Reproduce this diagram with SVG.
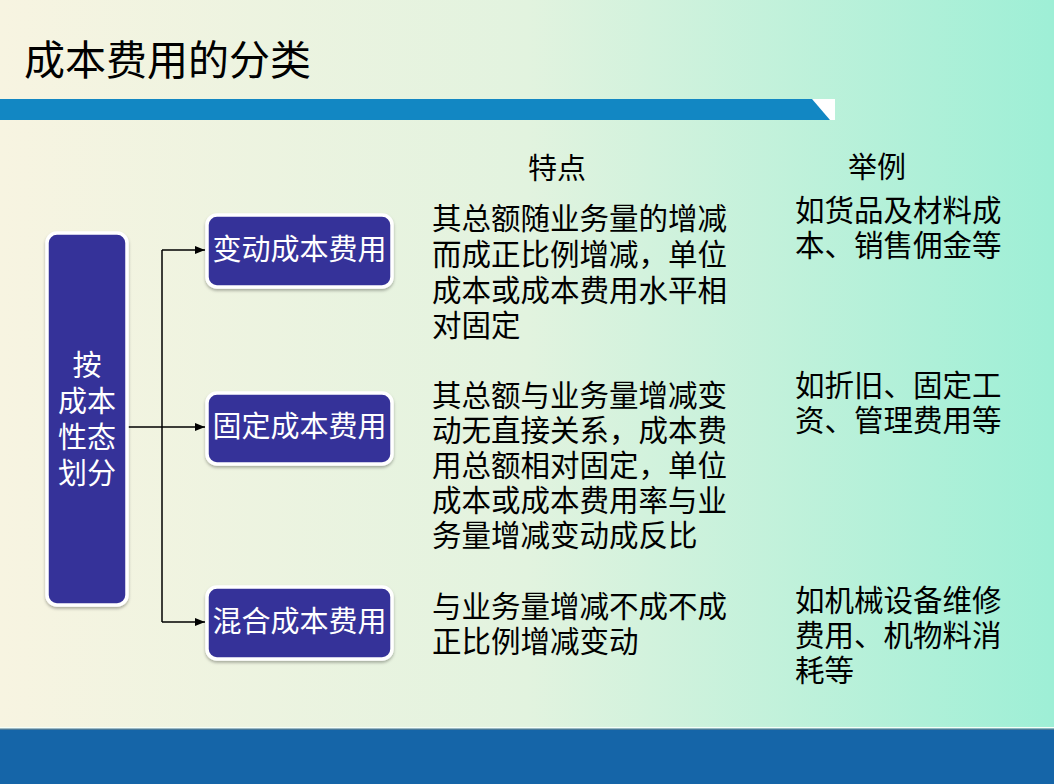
<svg xmlns="http://www.w3.org/2000/svg" width="1054" height="784" viewBox="0 0 1054 784">
<defs>
<linearGradient id="bg" x1="0" y1="0" x2="1" y2="0">
<stop offset="0" stop-color="#f7f4e1"/>
<stop offset="0.5" stop-color="#e2f3df"/>
<stop offset="1" stop-color="#9eefd6"/>
</linearGradient>
<marker id="arr" markerWidth="10" markerHeight="8" refX="10" refY="4" orient="auto" markerUnits="userSpaceOnUse">
<path d="M0,0 L10,4 L0,8 Z" fill="#000"/>
</marker>
<filter id="sh" x="-10%" y="-10%" width="120%" height="130%">
<feDropShadow dx="0" dy="2" stdDeviation="1.5" flood-color="#000" flood-opacity="0.3"/>
</filter>
</defs>
<style>
.box{fill:#363399;stroke:#fff;stroke-width:3.5;filter:url(#sh)}
.nt{font-family:"Noto Sans CJK SC","Liberation Sans",sans-serif;font-size:29px;fill:#fff;text-anchor:middle}
.bt{font-family:"Noto Sans CJK SC","Liberation Sans",sans-serif;font-size:29.5px;fill:#000}
.hd{font-family:"Noto Sans CJK SC","Liberation Sans",sans-serif;font-size:29px;fill:#000;text-anchor:middle}
.ln{stroke:#000;stroke-width:1.5;fill:none}
</style>
<rect x="0" y="0" width="1054" height="784" fill="url(#bg)"/>
<text x="24" y="75" font-family="'Noto Sans CJK SC','Liberation Sans',sans-serif" font-size="41" fill="#000">成本费用的分类</text>
<rect x="0" y="99" width="835" height="21" fill="#1287c3"/>
<polygon points="812,99 835,99 835,120 830,120" fill="#fff"/>
<rect x="0" y="727" width="1054" height="1.5" fill="#f4fff8"/>
<rect x="0" y="728.5" width="1054" height="1.5" fill="#4a7a9a"/>
<rect x="0" y="730" width="1054" height="54" fill="#1565a8"/>

<g id="connectors">
<path class="ln" d="M128,427 H162"/>
<path class="ln" d="M162,250 V622"/>
<path class="ln" d="M162,250 H205" marker-end="url(#arr)"/>
<path class="ln" d="M162,427 H205" marker-end="url(#arr)"/>
<path class="ln" d="M162,622 H205" marker-end="url(#arr)"/>
</g>

<g id="root">
<rect class="box" x="47" y="233" width="80" height="372" rx="10"/>
<text class="nt" x="87" y="376">按</text>
<text class="nt" x="87" y="412">成本</text>
<text class="nt" x="87" y="448">性态</text>
<text class="nt" x="87" y="484">划分</text>
</g>

<g id="n1">
<rect class="box" x="207" y="215" width="185" height="72" rx="10"/>
<text class="nt" x="299.5" y="260">变动成本费用</text>
</g>
<g id="n2">
<rect class="box" x="207" y="393" width="185" height="71" rx="10"/>
<text class="nt" x="299.5" y="437">固定成本费用</text>
</g>
<g id="n3">
<rect class="box" x="207" y="587" width="185" height="72" rx="10"/>
<text class="nt" x="299.5" y="632">混合成本费用</text>
</g>

<g id="headers">
<text class="hd" x="557" y="179">特点</text>
<text class="hd" x="877" y="178">举例</text>
</g>

<g id="feat1">
<text class="bt" x="432" y="229">其总额随业务量的增减</text>
<text class="bt" x="432" y="265">而成正比例增减，单位</text>
<text class="bt" x="432" y="301">成本或成本费用水平相</text>
<text class="bt" x="432" y="336">对固定</text>
</g>
<g id="feat2">
<text class="bt" x="432" y="406">其总额与业务量增减变</text>
<text class="bt" x="432" y="441">动无直接关系，成本费</text>
<text class="bt" x="432" y="476">用总额相对固定，单位</text>
<text class="bt" x="432" y="511">成本或成本费用率与业</text>
<text class="bt" x="432" y="546">务量增减变动成反比</text>
</g>
<g id="feat3">
<text class="bt" x="432" y="617">与业务量增减不成不成</text>
<text class="bt" x="432" y="652">正比例增减变动</text>
</g>

<g id="ex1">
<text class="bt" x="795" y="221">如货品及材料成</text>
<text class="bt" x="795" y="256">本、销售佣金等</text>
</g>
<g id="ex2">
<text class="bt" x="795" y="396">如折旧、固定工</text>
<text class="bt" x="795" y="431">资、管理费用等</text>
</g>
<g id="ex3">
<text class="bt" x="795" y="611">如机械设备维修</text>
<text class="bt" x="795" y="646">费用、机物料消</text>
<text class="bt" x="795" y="681">耗等</text>
</g>
</svg>
